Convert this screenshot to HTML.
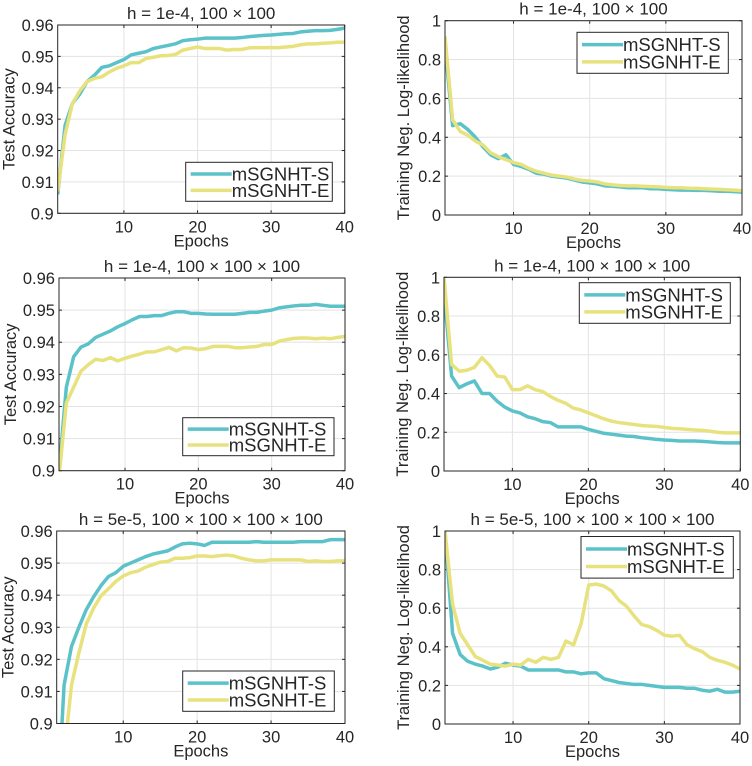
<!DOCTYPE html>
<html><head><meta charset="utf-8"><style>
body{margin:0;background:#fff;width:752px;height:766px;overflow:hidden}
svg{display:block}
svg text{font-family:"Liberation Sans",sans-serif;fill:#262626}
</style></head><body>
<svg id="fig" width="752" height="766" viewBox="0 0 752 766" xmlns="http://www.w3.org/2000/svg"></svg>
<script>
const epochs = Array.from({length:40},(_,i)=>i+1);
const seriesNames = ["mSGNHT-S","mSGNHT-E"];
const accTicks = [0.9,0.91,0.92,0.93,0.94,0.95,0.96];
const accTickLabels = ["0.9","0.91","0.92","0.93","0.94","0.95","0.96"];
const nllTicks = [0,0.2,0.4,0.6,0.8,1];
const nllTickLabels = ["0","0.2","0.4","0.6","0.8","1"];
const xTicks = [10,20,30,40];

const acc1S = [0.906,0.928,0.935,0.938,0.942,0.944,0.9465,0.947,0.948,0.949,0.9505,0.951,0.9515,0.9525,0.953,0.9535,0.954,0.955,0.9553,0.9555,0.9558,0.9558,0.9558,0.9558,0.9558,0.956,0.9563,0.9565,0.9567,0.9568,0.957,0.9572,0.9573,0.9578,0.958,0.9582,0.9582,0.9583,0.9586,0.959];
const acc1E = [0.907,0.925,0.935,0.939,0.942,0.943,0.9435,0.945,0.9462,0.947,0.948,0.948,0.9493,0.9497,0.9502,0.9503,0.9506,0.952,0.9525,0.953,0.9525,0.9525,0.9525,0.952,0.9522,0.9522,0.9527,0.9528,0.9528,0.9528,0.9528,0.953,0.9532,0.9537,0.954,0.954,0.9542,0.9543,0.9545,0.9545];
const nll1S = [0.87,0.46,0.47,0.44,0.40,0.35,0.31,0.29,0.31,0.26,0.25,0.235,0.215,0.21,0.2,0.195,0.19,0.18,0.17,0.165,0.16,0.15,0.148,0.145,0.14,0.14,0.14,0.135,0.135,0.132,0.13,0.128,0.128,0.127,0.127,0.125,0.122,0.122,0.12,0.118];
const nll1E = [0.92,0.49,0.43,0.41,0.38,0.36,0.32,0.30,0.285,0.27,0.26,0.24,0.225,0.215,0.205,0.20,0.195,0.185,0.178,0.175,0.17,0.16,0.155,0.152,0.15,0.15,0.148,0.146,0.145,0.142,0.14,0.14,0.138,0.137,0.135,0.133,0.132,0.13,0.128,0.125];
const acc2S = [0.9,0.926,0.9355,0.9385,0.9395,0.9415,0.9425,0.9435,0.9448,0.9458,0.947,0.948,0.948,0.9483,0.9483,0.949,0.9495,0.9495,0.949,0.949,0.9488,0.9487,0.9487,0.9487,0.9487,0.949,0.9493,0.9493,0.9497,0.95,0.9507,0.951,0.9513,0.9515,0.9515,0.9518,0.9515,0.9512,0.9512,0.9512];
const acc2E = [0.898,0.921,0.926,0.931,0.933,0.9347,0.9343,0.9352,0.9342,0.935,0.9357,0.9363,0.937,0.937,0.9377,0.9384,0.9373,0.9383,0.9382,0.9377,0.938,0.9387,0.9387,0.9387,0.9383,0.9383,0.9385,0.9387,0.9393,0.9393,0.9403,0.9408,0.9412,0.9413,0.9413,0.9411,0.9413,0.9411,0.9415,0.9418];
const nll2S = [0.92,0.49,0.43,0.45,0.465,0.40,0.40,0.36,0.33,0.31,0.30,0.28,0.27,0.255,0.25,0.228,0.228,0.228,0.228,0.215,0.205,0.195,0.19,0.185,0.18,0.178,0.172,0.168,0.163,0.16,0.158,0.155,0.155,0.155,0.153,0.15,0.147,0.145,0.145,0.145];
const nll2E = [1.0,0.55,0.515,0.52,0.535,0.585,0.545,0.49,0.485,0.42,0.42,0.44,0.42,0.41,0.385,0.365,0.35,0.325,0.315,0.30,0.285,0.27,0.258,0.25,0.245,0.24,0.235,0.232,0.23,0.225,0.22,0.218,0.215,0.212,0.21,0.205,0.20,0.197,0.197,0.197];
const acc3S = [0.87,0.912,0.924,0.930,0.9355,0.9395,0.943,0.9458,0.947,0.949,0.950,0.951,0.952,0.9528,0.9533,0.9538,0.955,0.956,0.9562,0.956,0.9555,0.9565,0.9565,0.9565,0.9565,0.9565,0.9565,0.9567,0.9565,0.9565,0.9565,0.9565,0.9565,0.9567,0.9567,0.9567,0.9567,0.9573,0.9573,0.9573];
const acc3E = [0.86,0.89,0.912,0.922,0.931,0.936,0.9398,0.942,0.9443,0.946,0.947,0.9475,0.9487,0.9495,0.9503,0.9505,0.9515,0.9515,0.9517,0.9522,0.9522,0.952,0.9523,0.9525,0.9522,0.9515,0.951,0.9507,0.9507,0.951,0.951,0.951,0.951,0.951,0.9505,0.9507,0.9505,0.9505,0.9507,0.9507];
const nll3S = [1.0,0.47,0.36,0.325,0.31,0.30,0.285,0.295,0.315,0.305,0.30,0.28,0.28,0.28,0.28,0.28,0.27,0.27,0.26,0.265,0.265,0.235,0.225,0.215,0.21,0.205,0.205,0.20,0.195,0.19,0.19,0.19,0.185,0.185,0.175,0.17,0.18,0.165,0.165,0.17];
const nll3E = [1.0,0.62,0.47,0.41,0.35,0.33,0.31,0.305,0.30,0.31,0.305,0.335,0.32,0.345,0.335,0.345,0.43,0.41,0.52,0.72,0.725,0.715,0.69,0.64,0.61,0.56,0.515,0.505,0.485,0.46,0.455,0.46,0.41,0.39,0.375,0.345,0.33,0.32,0.305,0.285];

const NS="http://www.w3.org/2000/svg";
const svg=document.getElementById('fig');
function mk(tag,attrs,parent,text){const e=document.createElementNS(NS,tag);for(const k in attrs)e.setAttribute(k,attrs[k]);if(text!==undefined)e.textContent=text;(parent||svg).appendChild(e);return e;}
const COLORS=["#5cc2c9","#e8e27e"];

const panels=[
 {id:"p1",x0:57.7,x1:344.7,y0:25,y1:213.3,yo:48,title:"h = 1e-4, 100 \u00d7 100",yl:"Test Accuracy",yt:accTicks,ytl:accTickLabels,ymin:0.9,ymax:0.96,s:[acc1S,acc1E],lg:[185.7,162.3,146.6,39]},
 {id:"p2",x0:445,x1:742,y0:20.7,y1:215,yo:41,title:"h = 1e-4, 100 \u00d7 100",yl:"Training Neg. Log-likelihood",yt:nllTicks,ytl:nllTickLabels,ymin:0,ymax:1,s:[nll1S,nll1E],lg:[577,32.3,151.3,41]},
 {id:"p3",x0:59,x1:345,y0:278,y1:470.7,yo:48,title:"h = 1e-4, 100 \u00d7 100 \u00d7 100",yl:"Test Accuracy",yt:accTicks,ytl:accTickLabels,ymin:0.9,ymax:0.96,s:[acc2S,acc2E],lg:[182.7,417.7,151.3,38]},
 {id:"p4",x0:444,x1:740.3,y0:277.3,y1:471,yo:41,title:"h = 1e-4, 100 \u00d7 100 \u00d7 100",yl:"Training Neg. Log-likelihood",yt:nllTicks,ytl:nllTickLabels,ymin:0,ymax:1,s:[nll2S,nll2E],lg:[579.3,282.7,151,40.6]},
 {id:"p5",x0:56.7,x1:345,y0:531,y1:723.5,yo:48,title:"h = 5e-5, 100 \u00d7 100 \u00d7 100 \u00d7 100",yl:"Test Accuracy",yt:accTicks,ytl:accTickLabels,ymin:0.9,ymax:0.96,s:[acc3S,acc3E],lg:[182.7,671,151.6,40.3]},
 {id:"p6",x0:445,x1:740,y0:531,y1:724,yo:41,title:"h = 5e-5, 100 \u00d7 100 \u00d7 100 \u00d7 100",yl:"Training Neg. Log-likelihood",yt:nllTicks,ytl:nllTickLabels,ymin:0,ymax:1,s:[nll3S,nll3E],lg:[581,536.5,152.3,41.6]}
];

panels.forEach(p=>{
  const g=mk('g',{});
  
  
  const xs=v=>p.x0+(v-1)/39*(p.x1-p.x0);
  const ys=v=>p.y1-(v-p.ymin)/(p.ymax-p.ymin)*(p.y1-p.y0);
  mk('rect',{x:p.x0,y:p.y0,width:p.x1-p.x0,height:p.y1-p.y0,fill:"#fff"},g);
  xTicks.forEach(t=>{const x=xs(t);
    const l=mk('line',{x1:x,x2:x,y1:p.y0,y2:p.y1,stroke:"#e3e3e3","stroke-width":1},g);
    
    
    mk('line',{x1:x,x2:x,y1:p.y1,y2:p.y1-3,stroke:"#262626","stroke-width":1},g);
    mk('line',{x1:x,x2:x,y1:p.y0,y2:p.y0+3,stroke:"#262626","stroke-width":1},g);
    const tl=mk('text',{x:x,y:p.y1+19,"text-anchor":"middle","font-size":16.5},g,String(t));
    
    
  });
  p.yt.forEach((t,i)=>{const y=ys(t);
    const l=mk('line',{x1:p.x0,x2:p.x1,y1:y,y2:y,stroke:"#e3e3e3","stroke-width":1},g);
    
    
    mk('line',{x1:p.x0,x2:p.x0+3,y1:y,y2:y,stroke:"#262626","stroke-width":1},g);
    mk('line',{x1:p.x1,x2:p.x1-3,y1:y,y2:y,stroke:"#262626","stroke-width":1},g);
    const tl=mk('text',{x:p.x0-4,y:y+6,"text-anchor":"end","font-size":16.5},g,p.ytl[i]);
    
    
  });
  const cid='clip-'+p.id;
  const cp=mk('clipPath',{id:cid},g);mk('rect',{x:p.x0,y:p.y0,width:p.x1-p.x0,height:p.y1-p.y0},cp);
  p.s.forEach((arr,si)=>{
    const d=arr.map((v,i)=>(i?'L':'M')+xs(epochs[i]).toFixed(2)+' '+ys(v).toFixed(2)).join(' ');
    const pa=mk('path',{d:d,fill:"none",stroke:COLORS[si],"stroke-width":3.5,"stroke-linejoin":"round","clip-path":"url(#"+cid+")"},g);
    
    
  });
  mk('rect',{x:p.x0,y:p.y0,width:p.x1-p.x0,height:p.y1-p.y0,fill:"none",stroke:"#262626","stroke-width":1},g);
  const cx=(p.x0+p.x1)/2;
  const ti=mk('text',{x:cx,y:p.y0-6,"text-anchor":"middle","font-size":17},g,p.title);
  
  
  const xl=mk('text',{x:cx,y:p.y1+33,"text-anchor":"middle","font-size":16.5},g,"Epochs");
  
  
  const lx=p.x0-p.yo, ly=(p.y0+p.y1)/2;
  const yl=mk('text',{x:lx,y:ly,"text-anchor":"middle","dominant-baseline":"central","font-size":16.5,transform:"rotate(-90 "+lx+" "+ly+")"},g,p.yl);
  
  
  const [bx,by,bw,bh]=p.lg;
  const lg=mk('g',{},g);
  
  
  mk('rect',{x:bx,y:by,width:bw,height:bh,fill:"#fff",stroke:"#262626","stroke-width":1},lg);
  seriesNames.forEach((n,i)=>{
    const yy=by+bh*(0.3+0.42*i);
    const e=mk('g',{},lg);
    
    
    mk('line',{x1:bx+5,x2:bx+46,y1:yy,y2:yy,stroke:COLORS[i],"stroke-width":3.5},e);
    mk('text',{x:bx+46,y:yy+6.5,"font-size":18.5},e,n);
  });
});
</script>
</body></html>
